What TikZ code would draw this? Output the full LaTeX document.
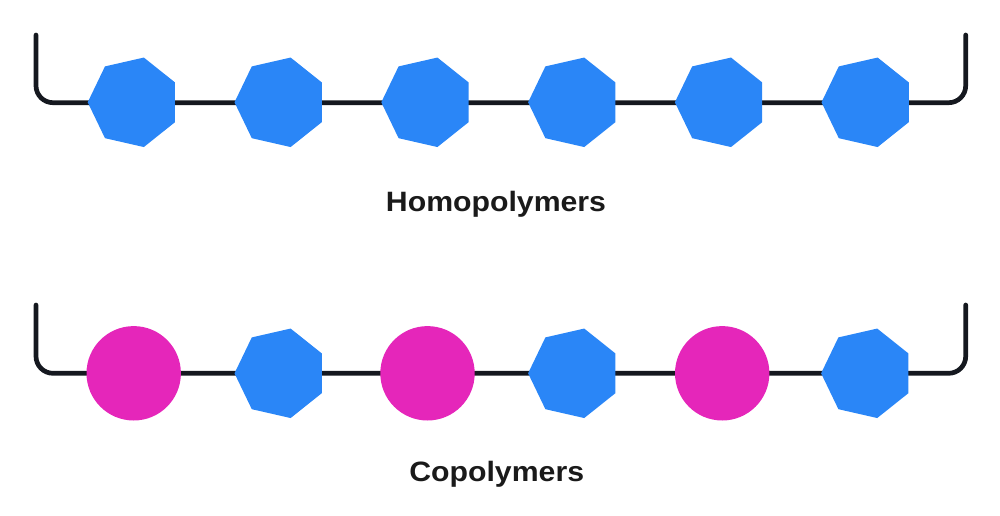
\documentclass[tikz,border=0pt]{standalone}
\usepackage{fontspec}
\newfontfamily\labelfont[FakeStretch=1.08]{Liberation Sans}
\usetikzlibrary{shapes.geometric}
\definecolor{polyblue}{HTML}{2A86F7}
\definecolor{polypink}{HTML}{E526BA}
\definecolor{chain}{HTML}{15181F}
\definecolor{txt}{HTML}{1A1A1A}
\tikzset{
  hepta/.style={regular polygon, regular polygon sides=7, shape border rotate=90,
    minimum size=91.8pt, inner sep=0pt, outer sep=0pt, fill=polyblue, draw=none},
  ball/.style={circle, minimum size=94.4pt, inner sep=0pt, outer sep=0pt, fill=polypink, draw=none},
  chainline/.style={draw=chain, line width=4.7pt, rounded corners=17pt, line cap=round},
  caption/.style={font=\labelfont\bfseries\fontsize{28}{32}\selectfont, text=txt, anchor=base, inner sep=0pt}
}
\begin{document}
\begin{tikzpicture}[x=1pt,y=-1pt]
\useasboundingbox (0,0) rectangle (1000,516);
% Homopolymer chain
\coordinate (ha) at (36,35);
\coordinate (hb) at (36,102.7);
\coordinate (hc) at (965.7,102.7);
\coordinate (hd) at (965.7,35);
\draw[chainline] (ha) -- (hb) -- (hc) -- (hd);
\foreach \i/\x in {1/133.6,2/280.4,3/427.2,4/574,5/720.8,6/867.4}{
  \node[hepta] (h\i) at (\x,102.3) {};
}
\node[caption] (homo) at (496,211.7) {Homopolymers};
% Copolymer chain
\coordinate (ca) at (36,305);
\coordinate (cb) at (36,373.3);
\coordinate (cc) at (965.7,373.3);
\coordinate (cd) at (965.7,305);
\draw[chainline] (ca) -- (cb) -- (cc) -- (cd);
\node[ball] (c1) at (133.7,373.3) {};
\node[hepta] (c2) at (280.4,373.3) {};
\node[ball] (c3) at (427.5,373.3) {};
\node[hepta] (c4) at (574,373.3) {};
\node[ball] (c5) at (722.2,373.3) {};
\node[hepta] (c6) at (867,373.3) {};
\node[caption] (co) at (496.7,481) {Copolymers};
\end{tikzpicture}
\end{document}
